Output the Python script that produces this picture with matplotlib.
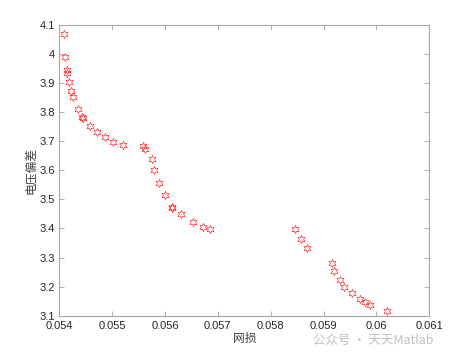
import matplotlib
matplotlib.use('Agg')
import matplotlib.pyplot as plt
from matplotlib.ticker import FuncFormatter
import numpy as np

# 网损 (x) 与 电压偏差 (y)
loss = [0.054095, 0.054108, 0.05414, 0.054146, 0.054183, 0.054221, 0.054265,
        0.054348, 0.054435, 0.054448, 0.054581, 0.054708, 0.054865, 0.055022,
        0.055211, 0.055589, 0.055621, 0.055748, 0.055792, 0.055886, 0.056000,
        0.056127, 0.056130, 0.056302, 0.056535, 0.056724, 0.056857,
        0.058465, 0.058573, 0.058692, 0.059154, 0.059203, 0.05931, 0.059386,
        0.059537, 0.059689, 0.059789, 0.059878, 0.060194]
vdev = [4.069, 3.989, 3.945, 3.936, 3.905, 3.874, 3.852,
        3.812, 3.785, 3.780, 3.751, 3.732, 3.714, 3.698,
        3.687, 3.685, 3.675, 3.638, 3.602, 3.558, 3.516,
        3.474, 3.470, 3.451, 3.422, 3.405, 3.398,
        3.397, 3.364, 3.334, 3.281, 3.255, 3.223, 3.199,
        3.178, 3.158, 3.147, 3.138, 3.115]

xticks = [0.054, 0.055, 0.056, 0.057, 0.058, 0.059, 0.06, 0.061]
yticks = [3.1, 3.2, 3.3, 3.4, 3.5, 3.6, 3.7, 3.8, 3.9, 4.0, 4.1]

plt.rcParams['font.family'] = ['Liberation Sans', 'Noto Sans CJK SC', 'DejaVu Sans']

fig = plt.figure(figsize=(4.74, 3.53), dpi=100)
ax = fig.add_axes([59.3 / 474, 1 - 315.7 / 353, 370 / 474, 290.7 / 353])

ax.plot(loss, vdev, linestyle='none', marker=(6, 1, 0), markersize=6,
        markerfacecolor='none', markeredgecolor='#ff2020', markeredgewidth=0.45)

ax.set_xlim(0.054, 0.061)
ax.set_ylim(3.1, 4.1)
ax.set_xticks(xticks)
ax.set_yticks(yticks)
ax.xaxis.set_major_formatter(FuncFormatter(lambda v, p: '%g' % round(v, 4)))
ax.yaxis.set_major_formatter(FuncFormatter(lambda v, p: '%g' % round(v, 2)))

for s in ax.spines.values():
    s.set_color('#a6a6a6')
    s.set_linewidth(0.8)
ax.tick_params(direction='in', length=3.5, width=0.6, color='#a6a6a6',
               labelsize=8, labelcolor='#262626', top=True, right=True)
ax.tick_params(axis='x', pad=3.5)
ax.tick_params(axis='y', pad=3)

ax.set_xlabel('网损', fontsize=8.5, color='#404040', family=['Noto Sans CJK SC'], labelpad=1)
ax.set_ylabel('电压偏差', fontsize=8.5, color='#404040', family=['Noto Sans CJK SC'], labelpad=2)

# 水印
fig.text(0.66, 0.035, '公众号 · 天天Matlab', fontsize=9, color='#c0c0c0',
         family=['Noto Sans CJK SC', 'DejaVu Sans'], va='center')

fig.savefig('out.png', dpi=100)
